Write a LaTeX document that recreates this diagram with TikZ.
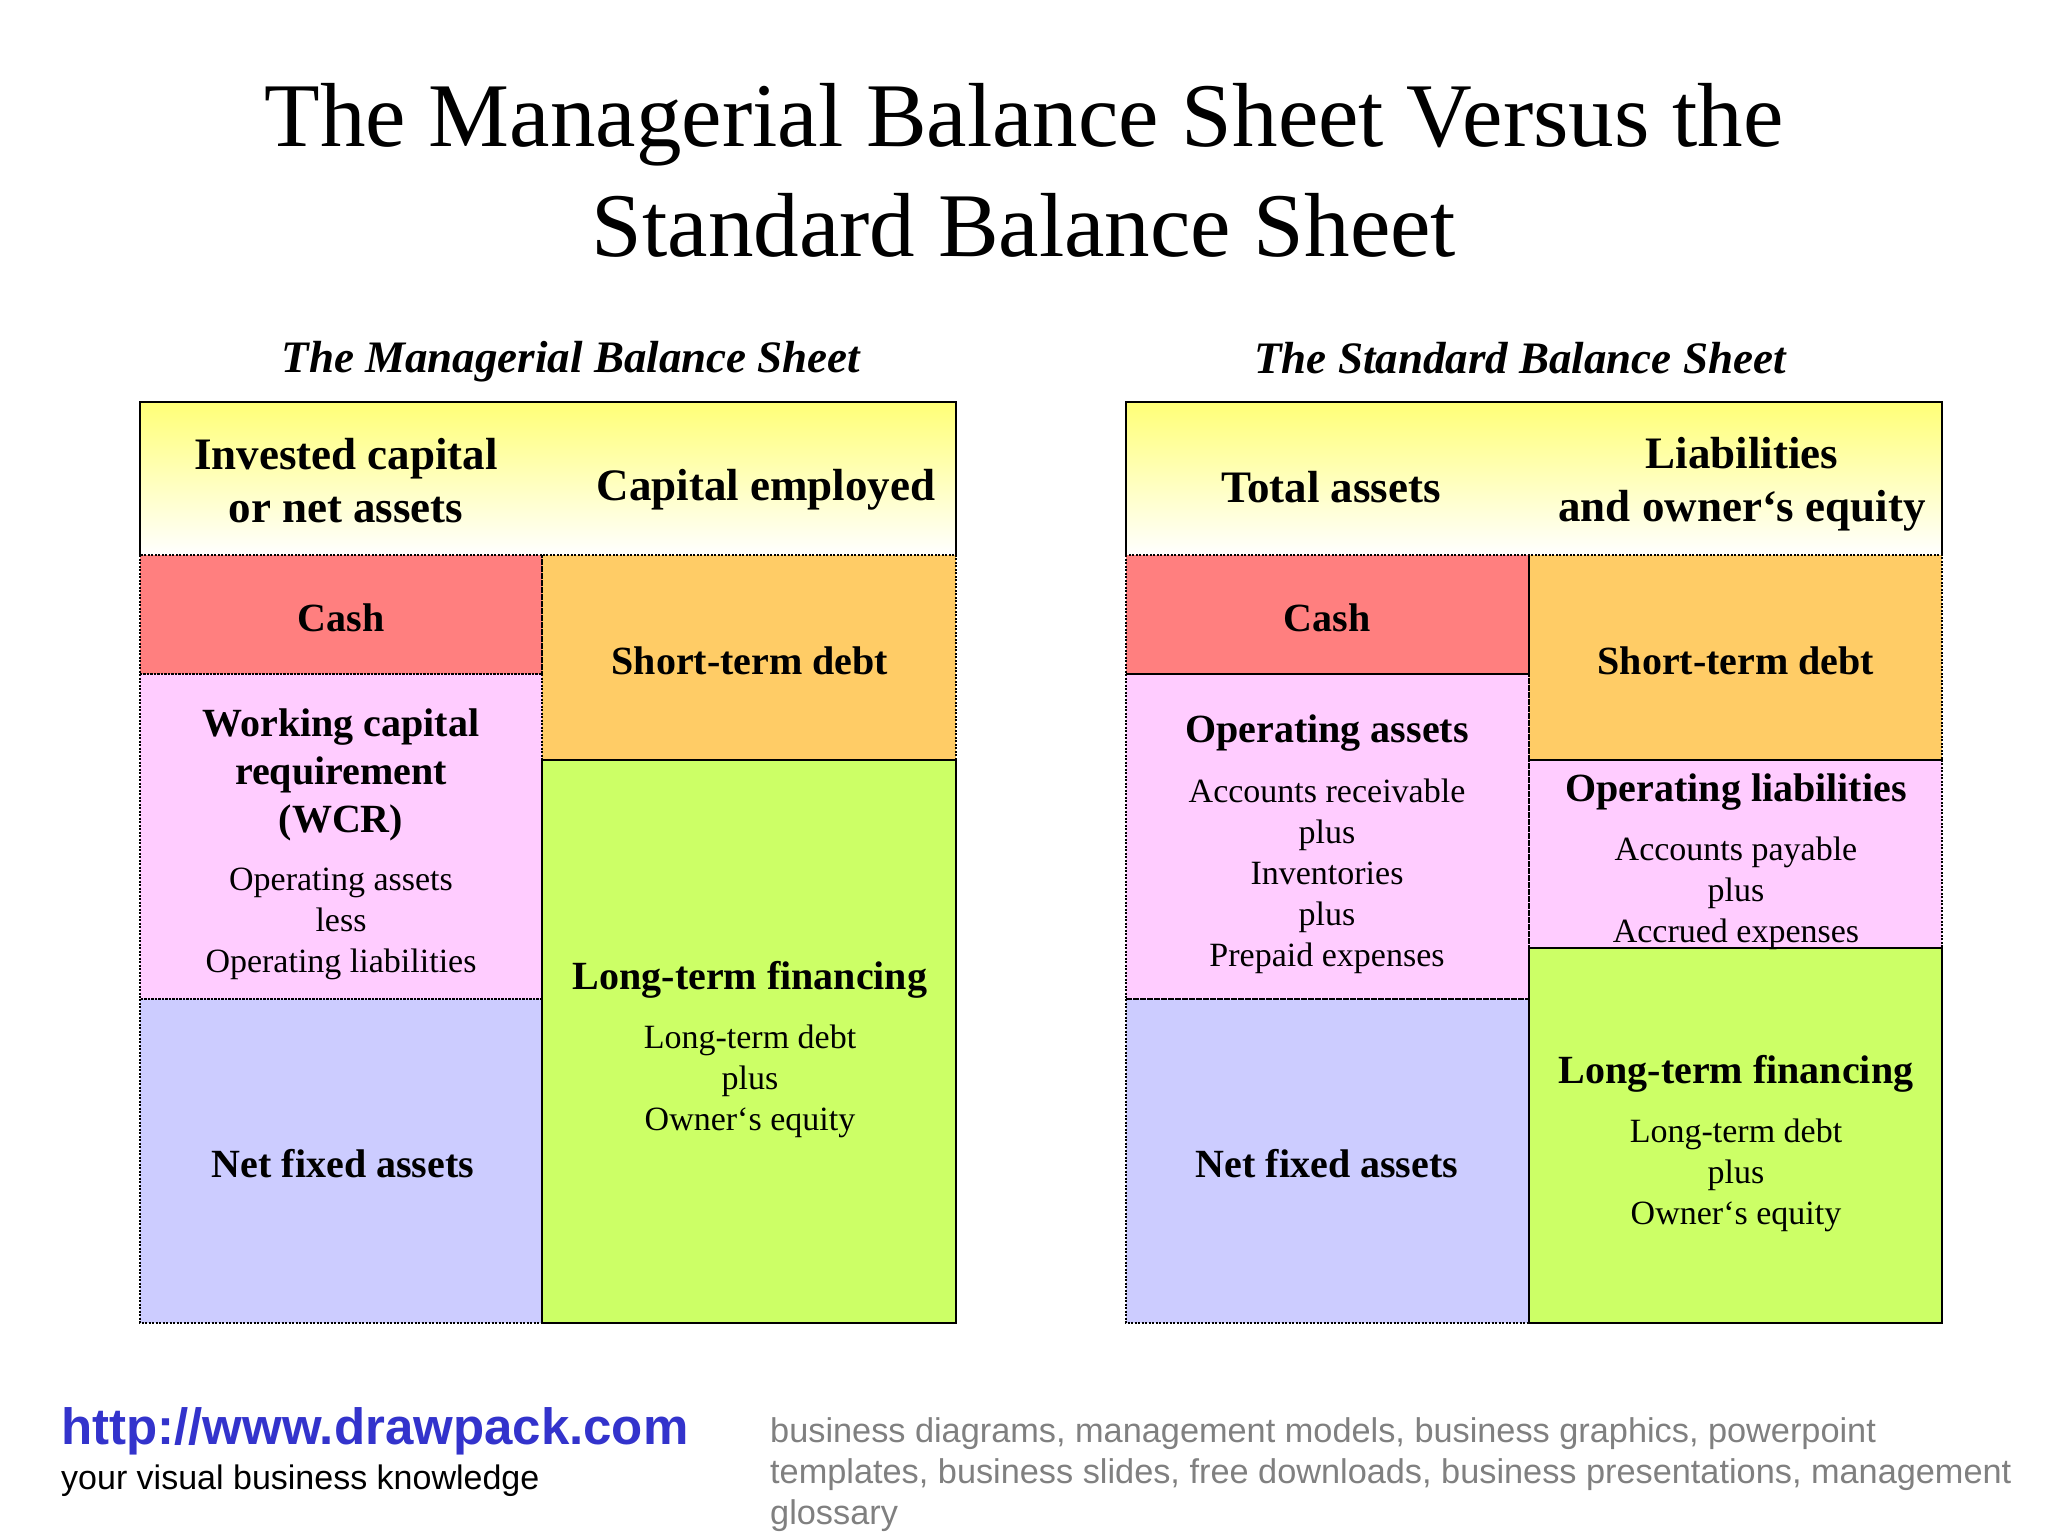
\documentclass[tikz,border=0pt]{standalone}
\usepackage{fontspec}
\setmainfont{Liberation Serif}
\newfontfamily\arialf{Liberation Sans}
\definecolor{cashred}{HTML}{FF7F7F}
\definecolor{stdorange}{HTML}{FFCC66}
\definecolor{wcrpink}{HTML}{FFCCFF}
\definecolor{nfablue}{HTML}{CCCCFF}
\definecolor{ltfgreen}{HTML}{CCFF66}
\definecolor{hdryellow}{HTML}{FFFF77}
\definecolor{urlblue}{HTML}{3333CC}
\definecolor{footgray}{HTML}{808080}
\tikzset{
 cell/.style={draw=black, line width=1.5pt, dash pattern=on 2pt off 1.5pt},
 frame/.style={draw=black, line width=2pt},
 hdr/.style={font=\bfseries\fontsize{45}{53}\selectfont, align=center, inner sep=0pt},
 lbl/.style={font=\bfseries\fontsize{40}{48}\selectfont, align=center, inner sep=0pt},
 body/.style={font=\fontsize{34}{41}\selectfont, align=center, inner sep=0pt},
 subt/.style={font=\bfseries\itshape\fontsize{45}{54}\selectfont, inner sep=0pt},
 ttl/.style={font=\fontsize{91}{110}\selectfont, align=center, inner sep=0pt},
}
\begin{document}
\begin{tikzpicture}[x=1pt,y=-1pt]
\useasboundingbox[fill=white] (0,0) rectangle (2048,1536);

% title
\node[ttl] (title) at (1024,170) {The Managerial Balance Sheet Versus the\\Standard Balance Sheet};
\node[subt] (subL) at (571,362) {The Managerial Balance Sheet};
\node[subt] (subR) at (1520,358) {The Standard Balance Sheet};

% ---------- left sheet ----------
\shade[top color=hdryellow, bottom color=white] (140,402) rectangle (956,555);
\fill[cashred] (140,555) rectangle (542,674);
\fill[wcrpink] (140,674) rectangle (542,999);
\fill[nfablue] (140,999) rectangle (542,1323);
\fill[stdorange] (542,555) rectangle (956,760);
\fill[ltfgreen] (542,760) rectangle (956,1323);
\draw[cell] (140,555) rectangle (542,674);
\draw[cell] (140,674) rectangle (542,999);
\draw[cell] (140,999) rectangle (542,1323);
\draw[cell] (542,555) rectangle (956,760);
\draw[frame] (542,760) rectangle (956,1323);
\draw[frame] (140,555) -- (140,402) -- (956,402) -- (956,555);

\node[hdr] (invcap) at (346,481) {Invested capital\\or net assets};
\node[hdr] (capemp) at (766,490) {Capital employed};
\node[lbl] (cashL) at (341,618) {Cash};
\node[lbl] (wcr) at (341,775) {Working capital\\requirement\\(WCR)};
\node[body] (wcrbody) at (341,924) {Operating assets\\less\\Operating liabilities};
\node[lbl] (nfaL) at (343,1164) {Net fixed assets};
\node[lbl] (stdL) at (750,661) {Short-term debt};
\node[lbl] (ltfL) at (750,980) {Long-term financing};
\node[body] (ltfbodyL) at (750,1081) {Long-term debt\\plus\\Owner‘s equity};

% ---------- right sheet ----------
\shade[top color=hdryellow, bottom color=white] (1126,402) rectangle (1942,555);
\fill[cashred] (1126,555) rectangle (1529,674);
\fill[wcrpink] (1126,674) rectangle (1529,999);
\fill[nfablue] (1126,999) rectangle (1529,1323);
\fill[stdorange] (1529,555) rectangle (1942,760);
\fill[wcrpink] (1529,760) rectangle (1942,948);
\fill[ltfgreen] (1529,948) rectangle (1942,1323);
\draw[cell] (1126,555) rectangle (1529,674);
\draw[cell] (1126,674) rectangle (1529,999);
\draw[cell] (1126,999) rectangle (1529,1323);
\draw[cell] (1529,555) rectangle (1942,760);
\draw[cell] (1529,760) rectangle (1942,948);
\draw[frame] (1529,948) rectangle (1942,1323);
\draw[frame] (1126,555) -- (1126,402) -- (1942,402) -- (1942,555);

\node[hdr] (totass) at (1331,487) {Total assets};
\node[hdr] (liab) at (1742,484) {Liabilities\\and owner‘s equity};
\node[lbl] (cashR) at (1327,618) {Cash};
\node[lbl] (opass) at (1327,733) {Operating assets};
\node[body] (opassbody) at (1327,876) {Accounts receivable\\plus\\Inventories\\plus\\Prepaid expenses};
\node[lbl] (nfaR) at (1327,1164) {Net fixed assets};
\node[lbl] (stdR) at (1736,661) {Short-term debt};
\node[lbl] (opliab) at (1736,792) {Operating liabilities};
\node[body] (opliabbody) at (1736,893) {Accounts payable\\plus\\Accrued expenses};
\node[lbl] (ltfR) at (1736,1074) {Long-term financing};
\node[body] (ltfbodyR) at (1736,1175) {Long-term debt\\plus\\Owner‘s equity};

% ---------- footer ----------
\node[font=\arialf\bfseries\fontsize{51}{60}\selectfont, text=urlblue, anchor=west, inner sep=0pt] (url) at (61,1431) {http://www.drawpack.com};
\node[font=\arialf\fontsize{34}{40}\selectfont, anchor=west, inner sep=0pt] (tag) at (61,1481) {your visual business knowledge};
\node[font=\arialf\fontsize{34.3}{41}\selectfont, text=footgray, anchor=west, align=left, inner sep=0pt] (kw) at (770,1475) {business diagrams, management models, business graphics, powerpoint\\templates, business slides, free downloads, business presentations, management\\glossary};
\end{tikzpicture}
\end{document}
